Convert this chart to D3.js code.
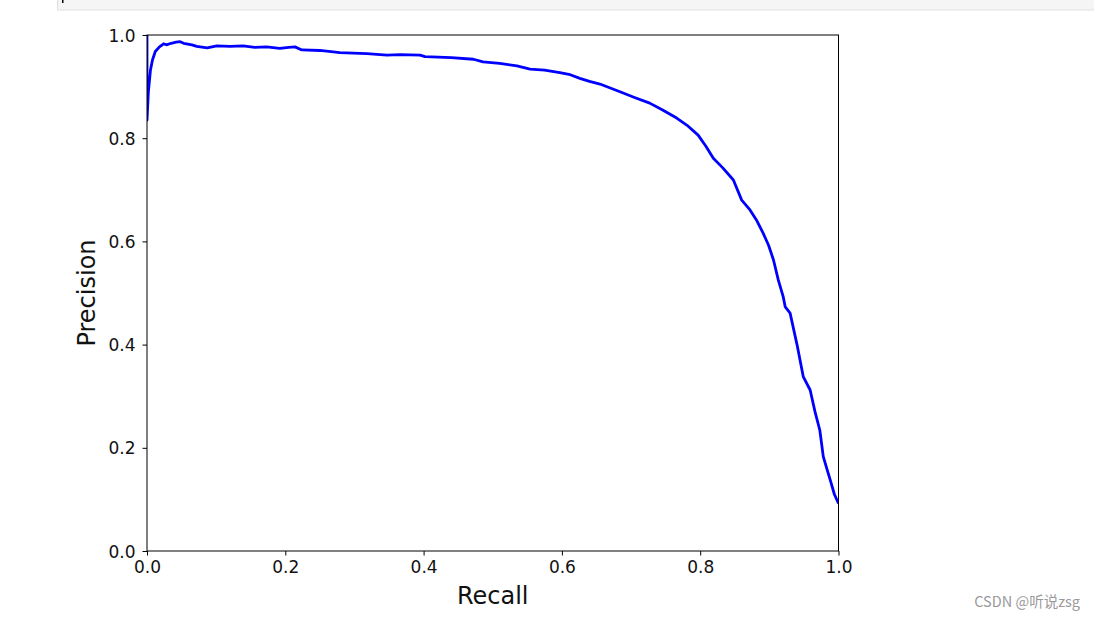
<!DOCTYPE html>
<html>
<head>
<meta charset="utf-8">
<script src="https://cdn.jsdelivr.net/npm/d3@7"></script>
<style>
  html, body { margin: 0; padding: 0; background: #fff; }
  svg { display: block; }
</style>
</head>
<body>
<svg id="chart" width="1094" height="619"></svg>
<script>
// Data
const recall = [0, 0, 0.002, 0.005, 0.008, 0.012, 0.018, 0.024, 0.028, 0.035, 0.042, 0.048, 0.053, 0.057, 0.065, 0.072, 0.077, 0.087, 0.101, 0.12, 0.139, 0.156, 0.173, 0.192, 0.205, 0.214, 0.224, 0.25, 0.279, 0.318, 0.347, 0.366, 0.395, 0.402, 0.44, 0.472, 0.486, 0.51, 0.535, 0.554, 0.575, 0.597, 0.612, 0.626, 0.64, 0.655, 0.684, 0.705, 0.727, 0.745, 0.766, 0.781, 0.797, 0.808, 0.819, 0.833, 0.848, 0.86, 0.872, 0.882, 0.891, 0.899, 0.906, 0.913, 0.92, 0.923, 0.93, 0.94, 0.949, 0.959, 0.966, 0.973, 0.978, 0.983, 0.988, 0.994, 1.0];
const precision = [1.0, 0.835, 0.89, 0.932, 0.952, 0.968, 0.977, 0.983, 0.981, 0.984, 0.986, 0.987, 0.984, 0.983, 0.981, 0.978, 0.977, 0.975, 0.979, 0.978, 0.979, 0.976, 0.977, 0.974, 0.976, 0.977, 0.971, 0.970, 0.966, 0.964, 0.961, 0.962, 0.961, 0.958, 0.956, 0.953, 0.948, 0.945, 0.940, 0.934, 0.932, 0.927, 0.923, 0.916, 0.910, 0.905, 0.890, 0.879, 0.868, 0.855, 0.839, 0.825, 0.806, 0.785, 0.761, 0.742, 0.719, 0.680, 0.661, 0.640, 0.616, 0.592, 0.564, 0.525, 0.493, 0.473, 0.461, 0.40, 0.338, 0.312, 0.27, 0.234, 0.183, 0.160, 0.138, 0.11, 0.092];
const xTicks = [0.0, 0.2, 0.4, 0.6, 0.8, 1.0];
const yTicks = [0.0, 0.2, 0.4, 0.6, 0.8, 1.0];
const xLabel = "Recall";
const yLabel = "Precision";
const watermark = "CSDN @听说zsg";

const svg = d3.select("#chart");
const font = "'DejaVu Sans', sans-serif";

// top notebook strip
svg.append("rect").attr("x", 57.5).attr("y", -1).attr("width", 1040).attr("height", 11)
  .attr("fill", "#f5f5f5").attr("stroke", "#e0e0e0").attr("stroke-width", 1);
svg.append("rect").attr("x", 62).attr("y", 0).attr("width", 1.5).attr("height", 3).attr("fill", "#000");

const L = 147, R = 838.5, T = 35, B = 551;
const x = d3.scaleLinear().domain([0, 1]).range([L, R]);
const y = d3.scaleLinear().domain([0, 1]).range([B, T]);

svg.append("clipPath").attr("id", "clip").append("rect")
  .attr("x", L).attr("y", T).attr("width", R - L).attr("height", B - T);

const pts = recall.map((r, i) => [r, precision[i]]);
const line = d3.line().x(d => x(d[0])).y(d => y(d[1]));
svg.append("path").datum(pts).attr("d", line)
  .attr("clip-path", "url(#clip)")
  .attr("fill", "none").attr("stroke", "#0000ff").attr("stroke-width", 2.8)
  .attr("stroke-linejoin", "round");

// axes
const xAxis = d3.axisBottom(x).tickValues(xTicks).tickFormat(d3.format(".1f")).tickSizeOuter(0).tickSize(4.5).tickPadding(5);
const yAxis = d3.axisLeft(y).tickValues(yTicks).tickFormat(d3.format(".1f")).tickSizeOuter(0).tickSize(4.5).tickPadding(7);

const gx = svg.append("g").attr("transform", `translate(0,${B})`).call(xAxis);
const gy = svg.append("g").attr("transform", `translate(${L},0)`).call(yAxis);
[gx, gy].forEach(g => {
  g.select(".domain").remove();
  g.selectAll(".tick line").attr("stroke", "#000").attr("stroke-width", 1);
  g.selectAll(".tick text").attr("fill", "#111").style("font-family", font).style("font-size", "17px");
});
gy.selectAll(".tick text").attr("dy", "0.36em");

// frame
svg.append("rect").attr("x", L).attr("y", T).attr("width", R - L).attr("height", B - T)
  .attr("fill", "none").attr("stroke", "#000").attr("stroke-width", 1);

svg.append("text").attr("x", (L + R) / 2).attr("y", 604).attr("text-anchor", "middle")
  .style("font-family", font).style("font-size", "24px").attr("fill", "#111").text(xLabel);
svg.append("text").attr("transform", `translate(95,${(T + B) / 2}) rotate(-90)`).attr("text-anchor", "middle")
  .style("font-family", font).style("font-size", "24px").attr("fill", "#111").text(yLabel);

svg.append("text").attr("x", 1080).attr("y", 607).attr("text-anchor", "end")
  .style("font-family", "'Noto Sans CJK SC', 'Noto Sans', sans-serif").style("font-size", "14.5px")
  .attr("fill", "#9a9a9a").text(watermark);
</script>
</body>
</html>
